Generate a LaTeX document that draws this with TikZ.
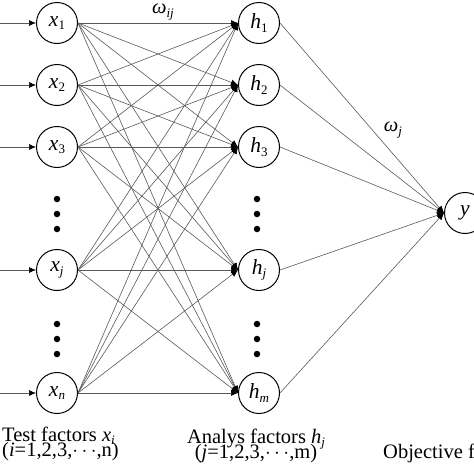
\documentclass[tikz,border=0pt]{standalone}
\usepackage{fontspec}
\setmainfont{Liberation Serif}
\usetikzlibrary{arrows.meta}
\newcommand\vsub[2]{\textit{#1}\raisebox{-0.35ex}{\fontsize{13}{13}\selectfont\textit{#2}}}
\newcommand\vsubu[2]{\textit{#1}\raisebox{-0.35ex}{\fontsize{13}{13}\selectfont #2}}
\newcommand\tightlines{\lineskiplimit=-30pt\relax\lineskip=0pt\relax}
\begin{document}
\begin{tikzpicture}[x=1pt,y=-1pt,
  neuron/.style={circle,draw=black,line width=1pt,minimum size=41pt,inner sep=0pt,font=\fontsize{21.5}{21.5}\selectfont},
  conn/.style={draw=black!65,line width=0.6pt,-{Latex[length=7pt,width=6pt,color=black]}},
  dot/.style={circle,fill=black,inner sep=0pt,minimum size=6.5pt},
  lab/.style={font=\fontsize{20.5}{14.5}\selectfont\tightlines,inner sep=0pt}]
\useasboundingbox (0,0) rectangle (474,474);
% input layer
\node[neuron] (x1) at (57,23) {\vsubu{x}{1}};
\node[neuron] (x2) at (57,85) {\vsubu{x}{2}};
\node[neuron] (x3) at (57,147) {\vsubu{x}{3}};
\node[neuron] (xj) at (57,270) {\vsub{x}{j}};
\node[neuron] (xn) at (57,393) {\vsub{x}{n}};
% hidden layer
\node[neuron] (h1) at (259,23) {\vsubu{h}{1}};
\node[neuron] (h2) at (259,85) {\vsubu{h}{2}};
\node[neuron] (h3) at (259,147) {\vsubu{h}{3}};
\node[neuron] (hj) at (259,270) {\vsub{h}{j}};
\node[neuron] (hm) at (259,393) {\vsub{h}{m}};
% output
\node[neuron] (y) at (465,213) {\textit{y}};
% dots
\foreach \yy [count=\k] in {199,214,229,324,339,354}{
  \node[dot] (dx\k) at (57,\yy) {};
  \node[dot] (dh\k) at (257,\yy) {};
}
% inputs
\foreach \n in {x1,x2,x3,xj,xn}{
  \coordinate (in-\n) at (0,0 |- \n.west);
  \draw[conn] (in-\n) -- (\n.west);
}
% input to hidden
\foreach \a in {x1,x2,x3,xj,xn}{
  \foreach \b in {h1,h2,h3,hj,hm}{
    \draw[conn] (\a.east) -- (\b.west);
  }
}
% hidden to output
\foreach \b in {h1,h2,h3,hj,hm}{
  \draw[conn] (\b.east) -- (y.west);
}
% weights
\node[lab] (wij) at (163,12) {\vsub{ω}{ij}};
\node[lab] (wj) at (393,130) {\vsub{ω}{j}};
% captions
\node[lab,anchor=north west,align=left] (t1) at (2,427) {Test factors \vsub{x}{i}\\(\textit{i}=1,2,3,$\cdots$,n)};
\node[lab,anchor=north,align=center] (t2) at (256,429) {Analys factors \vsub{h}{j}\\(\textit{j}=1,2,3,$\cdots$,m)};
\node[lab,anchor=base west] (t3) at (383,458) {Objective f};
\end{tikzpicture}
\end{document}
